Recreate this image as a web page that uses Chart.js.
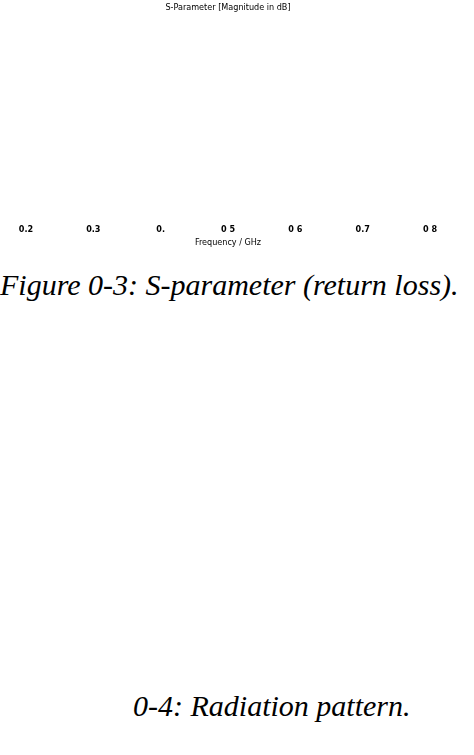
<!DOCTYPE html>
<html>
<head>
<meta charset="utf-8">
<script src="https://cdn.jsdelivr.net/npm/chart.js@4"></script>
<style>
  body { margin: 0; background: #fff; width: 474px; height: 755px; overflow: hidden; position: relative; }
  #wrap { position: absolute; left: 0; top: 0; width: 474px; height: 250px; }
  .cap { position: absolute; font-family: "Liberation Serif", serif; font-style: italic; font-size: 30px; color: #000; white-space: nowrap; }
</style>
</head>
<body>
<div id="wrap"><canvas id="myChart"></canvas></div>
<div class="cap" style="left:0; top:268px;">Figure 0-3: S-parameter (return loss).</div>
<div class="cap" style="left:133px; top:689px;">0-4: Radiation pattern.</div>
<script>
var tickValues = [0.2, 0.3, 0.4, 0.5, 0.6, 0.7, 0.8];
var tickLabels = ['0.2', '0.3', '0.', '0 5', '0 6', '0.7', '0 8'];
var seriesPoints = []; // no trace visible in the scan

var ctx = document.getElementById("myChart").getContext('2d');
var myChart = new Chart(ctx, {
    type: 'line',
    data: { datasets: [{ label: 'S11', data: seriesPoints, borderColor: '#000', borderWidth: 1, pointRadius: 0 }] },
    options: {
        responsive: true,
        maintainAspectRatio: false,
        animation: false,
        layout: { padding: { left: 26, right: 44, top: 0, bottom: 2 } },
        plugins: {
            legend: { display: false },
            tooltip: { enabled: false },
            title: { display: true, text: 'S-Parameter [Magnitude in dB]', color: '#000',
                     font: { family: 'DejaVu Sans Condensed', size: 9, weight: 'normal' }, padding: { top: 2, bottom: 0 } }
        },
        scales: {
            x: {
                type: 'linear', min: 0.2, max: 0.8,
                afterBuildTicks: function (axis) { axis.ticks = tickValues.map(function (v) { return { value: v }; }); },
                grid: { display: false, drawTicks: false },
                border: { display: false },
                ticks: {
                    color: '#000', maxRotation: 0, autoSkip: false, padding: 2,
                    font: { family: 'DejaVu Sans Condensed', size: 9, weight: 'bold' },
                    callback: function (v) { var i = tickValues.findIndex(function (t) { return Math.abs(t - v) < 1e-6; }); return i >= 0 ? tickLabels[i] : ''; }
                },
                title: { display: true, text: 'Frequency / GHz', color: '#000', padding: 0,
                         font: { family: 'DejaVu Sans Condensed', size: 9 } }
            },
            y: { display: false, min: -30, max: 0 }
        }
    }
});
</script>
</body>
</html>
